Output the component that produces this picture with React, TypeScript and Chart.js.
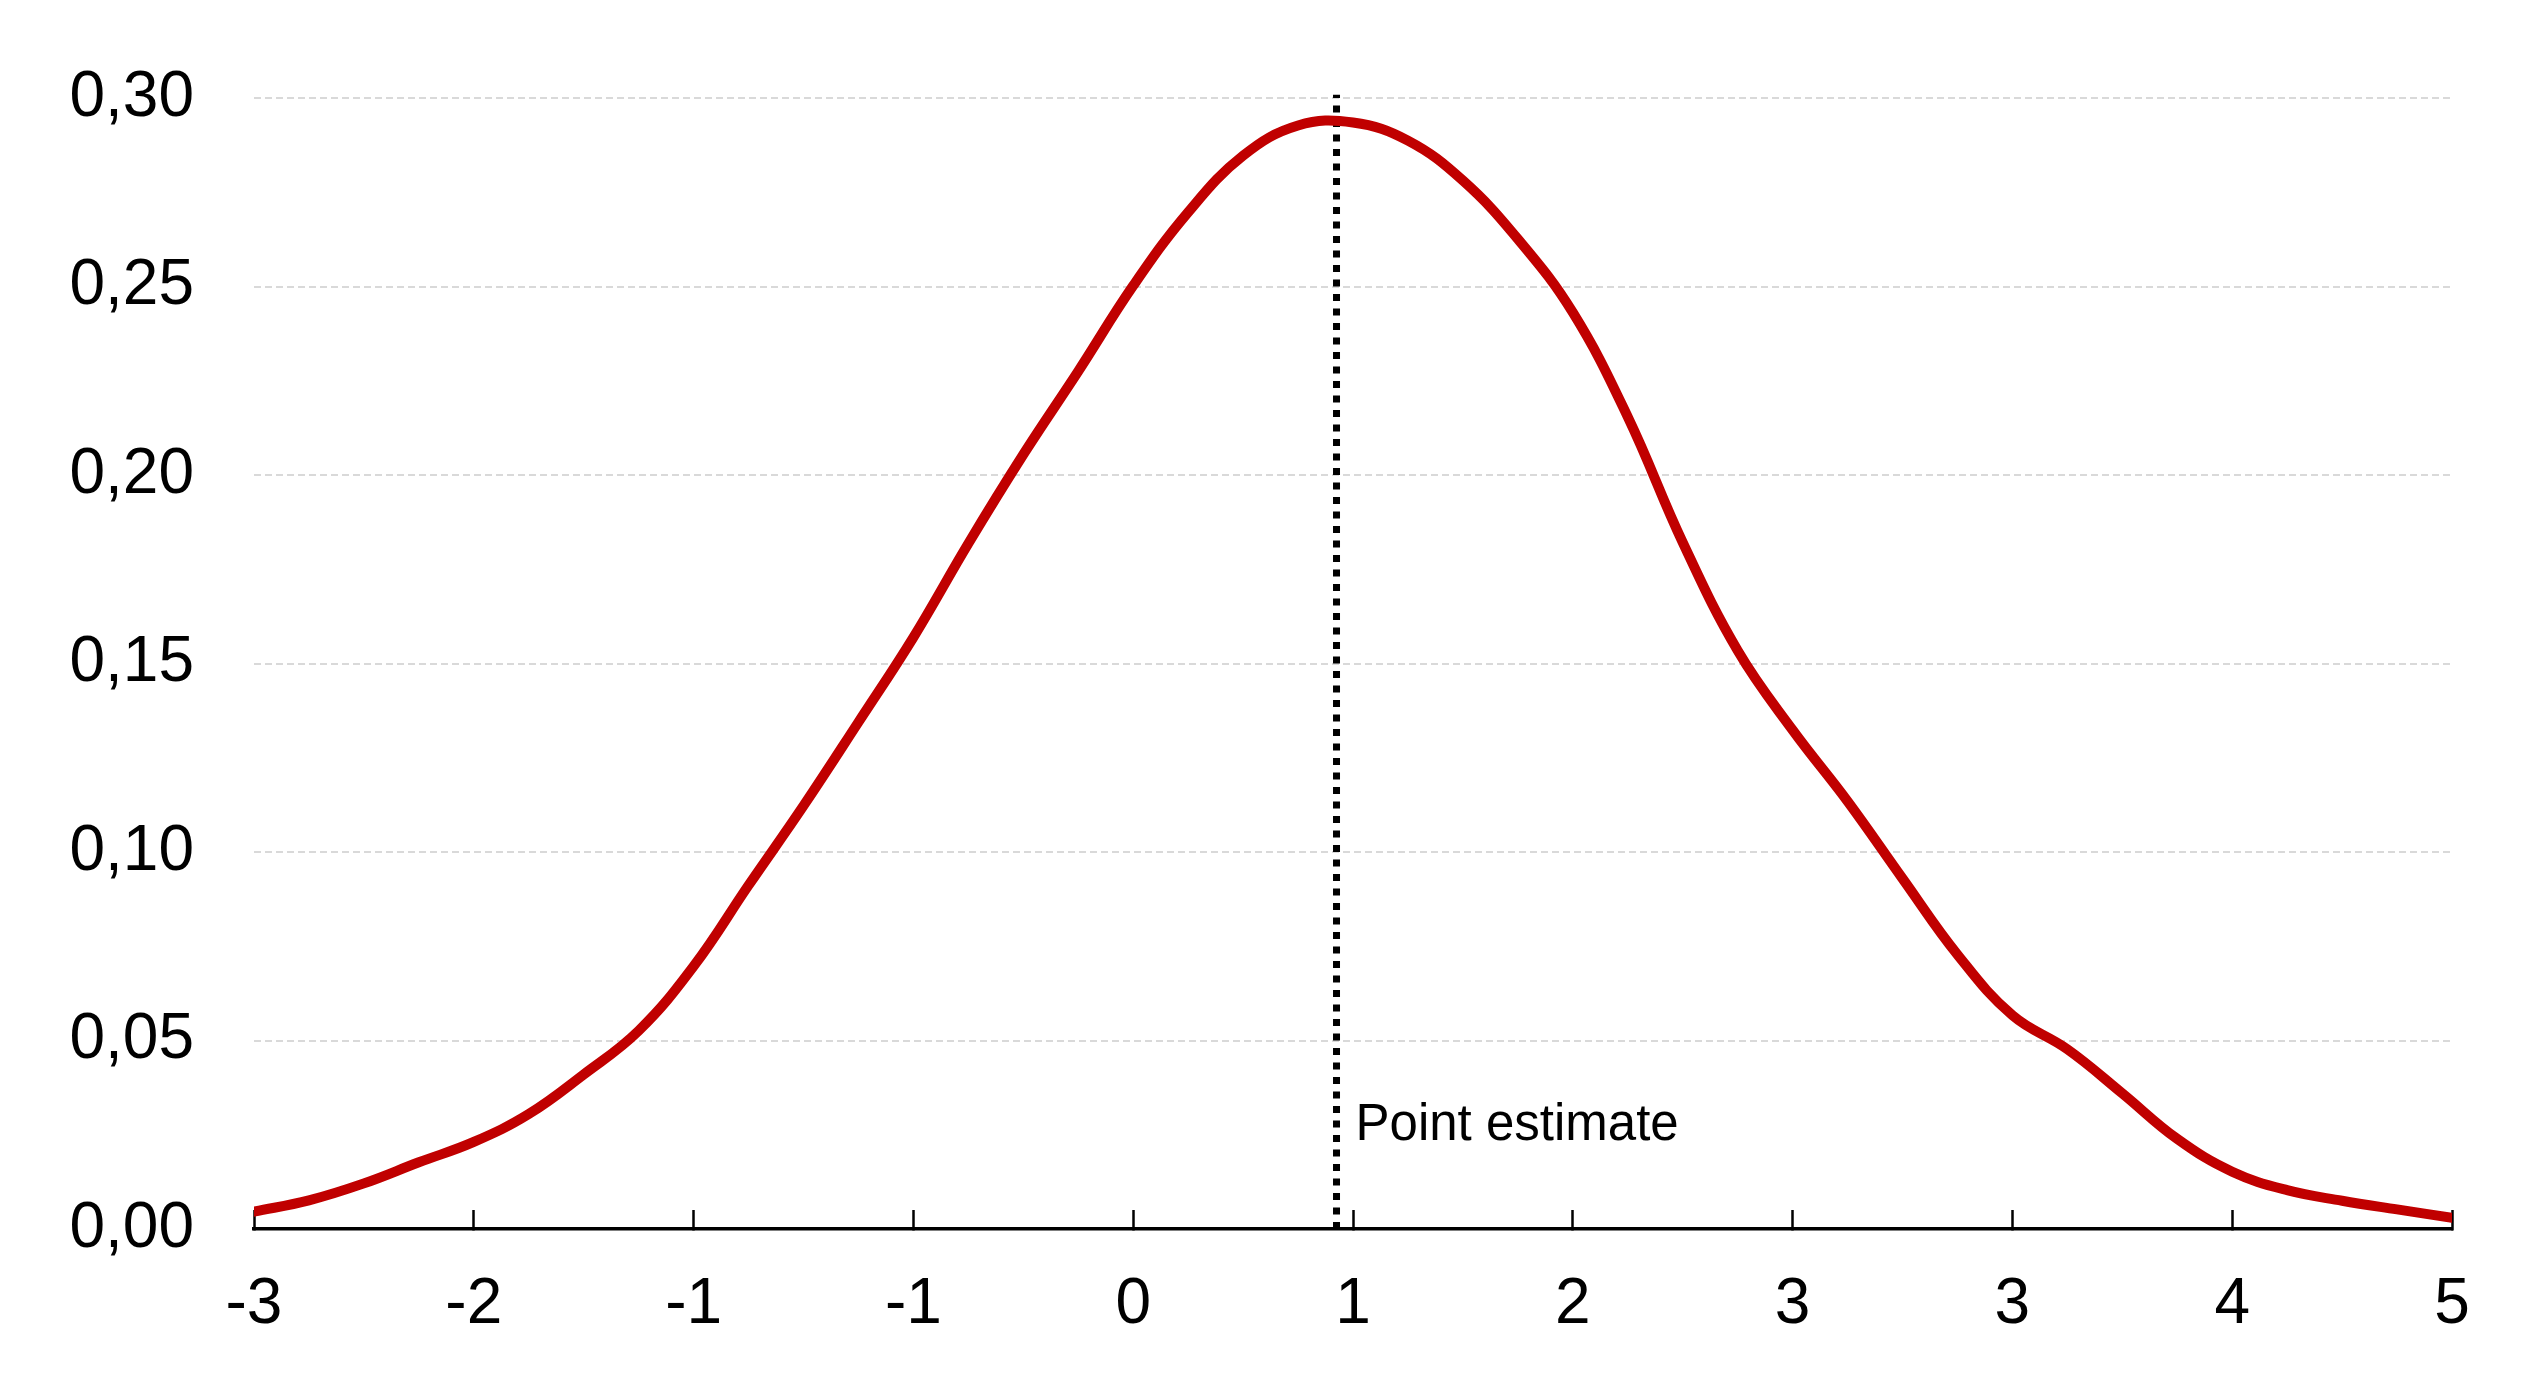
import React, { useEffect, useRef } from 'react';
import { Chart, registerables } from 'chart.js';

Chart.register(...registerables);

const FONT = '"Liberation Sans", Arial, Helvetica, sans-serif';

// x positions of the density estimate
const xValues = [
  -3, -2.8, -2.6, -2.4, -2.2, -2, -1.8, -1.6, -1.4, -1.2, -1, -0.8, -0.6, -0.4, -0.2,
  0, 0.2, 0.4, 0.6, 0.8, 1, 1.2, 1.4, 1.6, 1.8, 2, 2.2, 2.4, 2.6, 2.8, 3, 3.2, 3.4,
  3.6, 3.8, 4, 4.2, 4.4, 4.6, 4.8, 5,
];

// density
const density = [
  0.0046, 0.0076, 0.0121, 0.0177, 0.0231, 0.0305, 0.041, 0.0526, 0.0697, 0.0912, 0.1123,
  0.1345, 0.157, 0.1819, 0.2055, 0.2276, 0.2503, 0.2698, 0.2848, 0.2928, 0.2936, 0.2888,
  0.2782, 0.2627, 0.2432, 0.2155, 0.1822, 0.1535, 0.1324, 0.1135, 0.093, 0.0728, 0.0567,
  0.0477, 0.036, 0.0239, 0.0152, 0.0103, 0.0075, 0.0052, 0.003,
];

const xTicks = [-3, -2.2, -1.4, -0.6, 0.2, 1, 1.8, 2.6, 3.4, 4.2, 5];
const yTicks = [0, 0.05, 0.1, 0.15, 0.2, 0.25, 0.3];

const pointEstimate = 0.94;
const pointEstimateTop = 0.301;
const pointLabel = 'Point estimate';
const pointLabelY = 0.0235;

const pointLabelPlugin = {
  id: 'pointLabel',
  afterDatasetsDraw(chart: any) {
    const { ctx, scales } = chart;
    const px = scales.x.getPixelForValue(pointEstimate);
    const py = scales.y.getPixelForValue(pointLabelY);
    ctx.save();
    ctx.font = `51px ${FONT}`;
    ctx.fillStyle = '#000000';
    ctx.textAlign = 'left';
    ctx.textBaseline = 'alphabetic';
    ctx.fillText(pointLabel, px + 19, py);
    ctx.restore();
  },
};

const DensityChart: React.FC = () => {
  const chartRef = useRef<HTMLCanvasElement>(null);
  const chartInstanceRef = useRef<Chart | null>(null);

  useEffect(() => {
    if (!chartRef.current) return;
    const ctx = chartRef.current.getContext('2d');
    if (!ctx) return;

    chartInstanceRef.current = new Chart(ctx, {
      type: 'line',
      data: {
        datasets: [
          {
            label: 'Density',
            data: xValues.map((x, i) => ({ x, y: density[i] })),
            borderColor: '#C00000',
            borderWidth: 10,
            borderCapStyle: 'round',
            borderJoinStyle: 'round',
            tension: 0.4,
            pointRadius: 0,
            fill: false,
          },
          {
            label: pointLabel,
            data: [
              { x: pointEstimate, y: 0 },
              { x: pointEstimate, y: pointEstimateTop },
            ],
            borderColor: '#000000',
            borderWidth: 7,
            borderDash: [7, 7.5],
            pointRadius: 0,
            fill: false,
            clip: false,
          },
        ],
      },
      options: {
        animation: false,
        responsive: true,
        maintainAspectRatio: false,
        layout: { padding: { left: 0, right: 82, top: 96, bottom: 0 } },
        plugins: {
          legend: { display: false },
          tooltip: { enabled: false },
        },
        scales: {
          x: {
            type: 'linear',
            min: -3,
            max: 5,
            afterBuildTicks: (scale: any) => {
              scale.ticks = xTicks.map((value) => ({ value }));
            },
            afterFit: (scale: any) => {
              scale.height = 161;
            },
            ticks: {
              autoSkip: false,
              maxRotation: 0,
              padding: 57,
              color: '#000000',
              font: { family: FONT, size: 64 },
              callback: (v: any) => String(Math.round(Number(v))),
            },
            grid: {
              drawOnChartArea: false,
              drawTicks: true,
              tickLength: -19,
              tickColor: '#000000',
              tickWidth: 2.5,
            },
            border: { display: true, color: '#000000', width: 3.5 },
          },
          y: {
            min: 0,
            max: 0.3,
            afterBuildTicks: (scale: any) => {
              scale.ticks = yTicks.map((value) => ({ value }));
            },
            afterFit: (scale: any) => {
              scale.width = 254;
            },
            ticks: {
              padding: 60,
              color: '#000000',
              font: { family: FONT, size: 64 },
              callback: (v: any) => Number(v).toFixed(2).replace('.', ','),
            },
            grid: {
              color: '#d9d9d9',
              lineWidth: 2,
              drawTicks: false,
            },
            border: { display: false, dash: [7, 4] },
          },
        },
      },
      plugins: [pointLabelPlugin],
    } as any);

    return () => {
      if (chartInstanceRef.current) {
        chartInstanceRef.current.destroy();
        chartInstanceRef.current = null;
      }
    };
  }, []);

  return <canvas ref={chartRef} aria-label="Density with point estimate"></canvas>;
};

export default function App() {
  return (
    <div style={{ position: 'fixed', left: 0, top: 0, width: '100vw', height: '100vh', background: '#ffffff' }}>
      <DensityChart />
    </div>
  );
}
